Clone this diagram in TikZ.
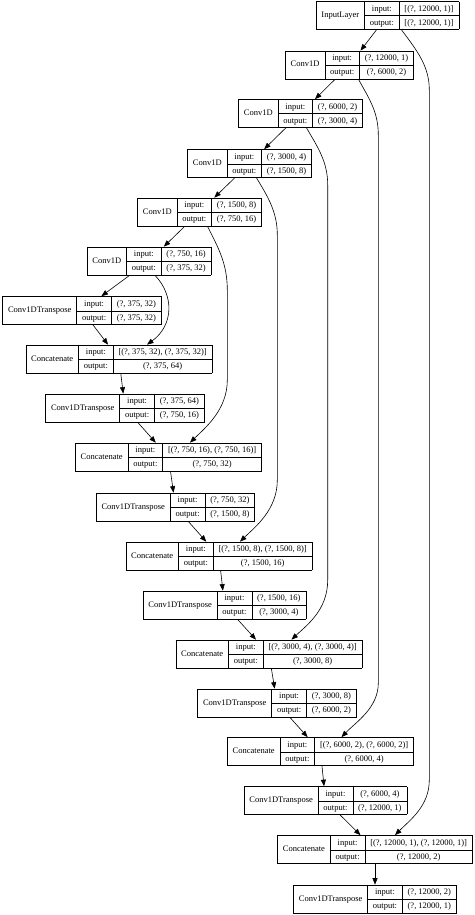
\documentclass[tikz,border=0pt]{standalone}
\usepackage{fontspec}
\setmainfont{Liberation Serif}
\usepackage{array}
\usepackage{multirow}
\usetikzlibrary{arrows.meta}

\setlength{\tabcolsep}{5pt}
\setlength{\arrayrulewidth}{0.6pt}
\renewcommand{\arraystretch}{1.375}

% one keras layer record: name | input/output | shapes
\newcommand{\layerrec}[3]{%
  \begin{tabular}{|c|c|c|}\hline
    \multirow{2}{*}{#1} & input: & #2\\\cline{2-3}
     & output: & #3\\\hline
  \end{tabular}}

\tikzset{
  layerbox/.style={inner sep=0pt, outer sep=0pt, font=\fontsize{8.5}{10}\selectfont},
  flow/.style={-{Triangle[length=6.5pt,width=5pt]}, line width=0.6pt},
}

\begin{document}
\begin{tikzpicture}[x=1pt,y=-1pt]
        \useasboundingbox (0,0) rectangle (474,915);
        % encoder
        \node[layerbox] (inp) at (387.5,15.5) {\layerrec{InputLayer}{[(?, 12000, 1)]}{[(?, 12000, 1)]}};
        \node[layerbox] (c1) at (349.5,65) {\layerrec{Conv1D}{(?, 12000, 1)}{(?, 6000, 2)}};
        \node[layerbox] (c2) at (300.5,113.5) {\layerrec{Conv1D}{(?, 6000, 2)}{(?, 3000, 4)}};
        \node[layerbox] (c3) at (249.5,163.5) {\layerrec{Conv1D}{(?, 3000, 4)}{(?, 1500, 8)}};
        \node[layerbox] (c4) at (199.5,212) {\layerrec{Conv1D}{(?, 1500, 8)}{(?, 750, 16)}};
        \node[layerbox] (c5) at (149,261) {\layerrec{Conv1D}{(?, 750, 16)}{(?, 375, 32)}};
        % decoder
        \node[layerbox] (t1) at (82,310.5) {\layerrec{Conv1DTranspose}{(?, 375, 32)}{(?, 375, 32)}};
        \node[layerbox] (cat1) at (119,359) {\layerrec{Concatenate}{[(?, 375, 32), (?, 375, 32)]}{(?, 375, 64)}};
        \node[layerbox] (t2) at (125,408) {\layerrec{Conv1DTranspose}{(?, 375, 64)}{(?, 750, 16)}};
        \node[layerbox] (cat2) at (168.5,457) {\layerrec{Concatenate}{[(?, 750, 16), (?, 750, 16)]}{(?, 750, 32)}};
        \node[layerbox] (t3) at (175.5,507) {\layerrec{Conv1DTranspose}{(?, 750, 32)}{(?, 1500, 8)}};
        \node[layerbox] (cat3) at (219,556) {\layerrec{Concatenate}{[(?, 1500, 8), (?, 1500, 8)]}{(?, 1500, 16)}};
        \node[layerbox] (t4) at (224.5,605) {\layerrec{Conv1DTranspose}{(?, 1500, 16)}{(?, 3000, 4)}};
        \node[layerbox] (cat4) at (269,654) {\layerrec{Concatenate}{[(?, 3000, 4), (?, 3000, 4)]}{(?, 3000, 8)}};
        \node[layerbox] (t5) at (277,703) {\layerrec{Conv1DTranspose}{(?, 3000, 8)}{(?, 6000, 2)}};
        \node[layerbox] (cat5) at (320.5,751.5) {\layerrec{Concatenate}{[(?, 6000, 2), (?, 6000, 2)]}{(?, 6000, 4)}};
        \node[layerbox] (t6) at (325.5,800.5) {\layerrec{Conv1DTranspose}{(?, 6000, 4)}{(?, 12000, 1)}};
        \node[layerbox] (cat6) at (375,849.5) {\layerrec{Concatenate}{[(?, 12000, 1), (?, 12000, 1)]}{(?, 12000, 2)}};
        \node[layerbox] (t7) at (375,899) {\layerrec{Conv1DTranspose}{(?, 12000, 2)}{(?, 12000, 1)}};
        % main chain
        \foreach \a/\b in {inp/c1, c1/c2, c2/c3, c3/c4, c4/c5, c5/t1, t1/cat1, cat1/t2, t2/cat2, cat2/t3, t3/cat3, cat3/t4, t4/cat4, cat4/t5, t5/cat5, cat5/t6, t6/cat6, cat6/t7}
            \draw[flow] (\a) -- (\b);
        % skip connections
        \draw[flow] ([xshift=6pt]c5.south) .. controls (174,295) and (174,325) .. ([xshift=28pt]cat1.north);
        \draw[flow] ([xshift=8pt]c4.south) .. controls (218.5,248) and (227.3,264) .. (227.3,290) -- (227.3,380) .. controls (227.3,410) and (205,428) .. ([xshift=21.5pt]cat2.north);
        \draw[flow] ([xshift=7pt]c3.south) .. controls (268,197) and (277.3,212) .. (277.3,235) -- (277.3,480) .. controls (277.3,510) and (255,527) .. ([xshift=21pt]cat3.north);
        \draw[flow] ([xshift=6pt]c2.south) .. controls (318.2,148) and (327.7,162) .. (327.7,185) -- (327.7,580) .. controls (327.7,610) and (307,625) .. ([xshift=22.5pt]cat4.north);
        \draw[flow] ([xshift=9pt]c1.south) .. controls (369.3,99) and (378.3,112) .. (378.3,135) -- (378.3,683) .. controls (378.3,708) and (356,722) .. ([xshift=21pt]cat5.north);
        \draw[flow] ([xshift=14pt]inp.south) .. controls (416.9,50.5) and (429.3,66) .. (429.3,90) -- (429.3,780) .. controls (429.3,806) and (410,820) .. ([xshift=20pt]cat6.north);
\end{tikzpicture}
\end{document}
